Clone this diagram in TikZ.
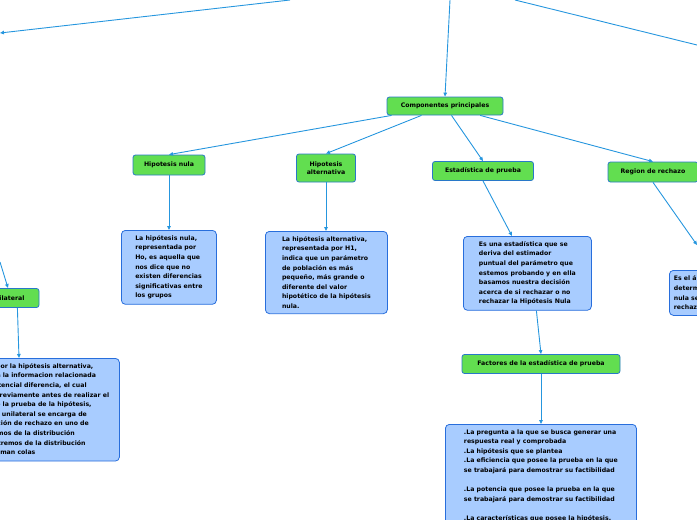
\documentclass[tikz,border=0pt]{standalone}
\usepackage{fontspec}
\setmainfont{DejaVu Sans}
\usetikzlibrary{arrows.meta}
\definecolor{lnk}{RGB}{38,150,222}
\definecolor{gfill}{RGB}{98,222,80}
\definecolor{gdraw}{RGB}{40,120,200}
\definecolor{bfill}{RGB}{168,204,255}
\definecolor{bdraw}{RGB}{40,110,220}
\tikzset{
 topic/.style={draw=gdraw,fill=gfill,rounded corners=2.5pt,line width=0.8pt,font=\bfseries\fontsize{6.2}{7.6}\selectfont,align=center,inner sep=3pt},
 note/.style={draw=bdraw,fill=bfill,rounded corners=4pt,line width=0.8pt,font=\bfseries\fontsize{6.2}{9.6}\selectfont,align=left,anchor=north west,inner sep=5pt,inner xsep=4.5pt},
 link/.style={draw=lnk,line width=0.9pt,-{Triangle[length=4pt,width=3.5pt]}},
 plain/.style={draw=lnk,line width=0.9pt}
}
\begin{document}
\begin{tikzpicture}[x=1pt,y=-1pt]
\useasboundingbox (0,0) rectangle (697,520);
\clip (0,0) rectangle (697,520);
\node[topic,minimum width=116,minimum height=18] (cp) at (445,106) {Componentes principales};
\node[topic,minimum width=72,minimum height=20] (hn) at (169,165) {Hipotesis nula};
\node[topic,minimum width=59,minimum height=28] (ha) at (326,168) {Hipotesis\\alternativa};
\node[topic,minimum width=101,minimum height=19] (ep) at (483,171) {Estadística de prueba};
\node[topic,minimum width=90,minimum height=20] (rr) at (653,172) {Region de rechazo};
\node[topic,minimum width=90,minimum height=19] (un) at (-6,298) {Prueba unilateral};
\node[topic,minimum width=158,minimum height=19] (fe) at (541,364) {Factores de la estadística de prueba};

\node[note,minimum width=95,minimum height=71] (tn) at (121,230) {La hipótesis nula,\\representada por\\Ho, es aquella que\\nos dice que no\\existen diferencias\\significativas entre\\los grupos};
\node[note,minimum width=122,minimum height=78] (ta) at (265,231) {La hipótesis alternativa,\\representada por H1,\\indica que un parámetro\\de población es más\\pequeño, más grande o\\diferente del valor\\hipotético de la hipótesis\\nula.};
\node[note,minimum width=128,minimum height=70] (te) at (463,236) {Es una estadística que se\\deriva del estimador\\puntual del parámetro que\\estemos probando y en ella\\basamos nuestra decisión\\acerca de si rechazar o no\\rechazar la Hipótesis Nula};
\node[note,minimum width=80,minimum height=45] (tr) at (669,270) {Es el área que\\determina si la hipótesis\\nula se acepta o se\\rechaza};
\node[note,minimum width=191,minimum height=110] (tf) at (445,424) {.La pregunta a la que se busca generar una\\respuesta real y comprobada\\.La hipótesis que se plantea\\.La eficiencia que posee la prueba en la que\\se trabajará para demostrar su factibilidad\\\\.La potencia que posee la prueba en la que\\se trabajará para demostrar su factibilidad\\\\.La características que posee la hipótesis,\\esto puede variar entre tamaño};
\node[note,minimum width=163,minimum height=95] (tu) at (-44,358) {Es dada por la hipótesis alternativa,\\y se toma la informacion relacionada\\con la potencial diferencia, el cual\\se sabe previamente antes de realizar el\\diseño de la prueba de la hipótesis,\\la prueba unilateral se encarga de\\la colocación de rechazo en uno de\\los extremos de la distribución\\en los extremos de la distribución\\que se llaman colas};

\coordinate (t1) at (450,0);
\coordinate (t2) at (290,0);
\coordinate (t3) at (515,0);
\coordinate (e1) at (0,33);
\coordinate (e2) at (697,45);
\coordinate (e3) at (0,262);
\draw[link] (t1) -- (cp.north);
\draw[link] (t2) -- (e1);
\draw[plain] (t3) -- (e2);
\draw[link] (e3) -- (8,288);
\draw[link] (cp) -- (hn.north);
\draw[link] (cp) -- (ha.north);
\draw[link] (cp) -- (ep.north);
\draw[link] (cp) -- (rr.north);
\draw[link] (hn) -- (tn.north-|hn);
\draw[link] (ha) -- (ta.north-|ha);
\draw[link] (ep.south) -- (512,236);
\draw[link] (rr.south) -- (697,245);
\draw[link] (un.south east) ++(-22,0) coordinate (us) -- (19,358);
\draw[link] (te.south) ++(9,0) coordinate (es) -- (fe.north);
\draw[link] (fe) -- (tf.north-|fe);
\end{tikzpicture}
\end{document}
